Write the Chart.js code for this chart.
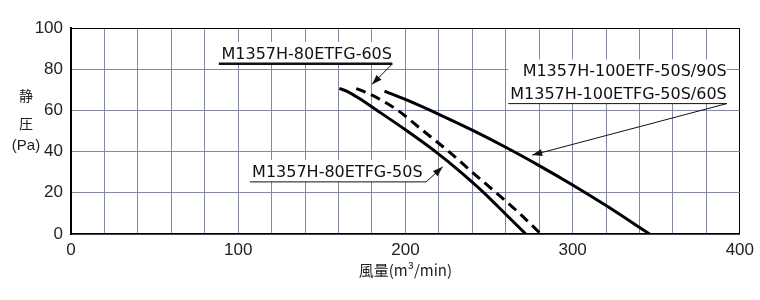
<!DOCTYPE html>
<html>
<head>
<meta charset="utf-8">
<script src="https://cdn.jsdelivr.net/npm/chart.js@4/dist/chart.umd.min.js"></script>
<style>
  body { margin: 0; background: #fff; }
</style>
</head>
<body>
<canvas id="pqChart" width="760" height="300"></canvas>
<script>
// 風量 (m3/min) vs 静圧 (Pa)
const flow80_50 = [160.5, 166, 172, 182.5, 200, 218, 232, 247, 260, 272];
const press80_50 = [70.7, 68.9, 66, 60.3, 50.6, 40, 30.8, 20, 9.6, 0];

const flow80_60 = [170.6, 177, 184.5, 195.5, 210, 226, 240, 254, 268, 281];
const press80_60 = [70.6, 68.5, 65.5, 60, 50.5, 40, 30, 20.2, 10.2, 0];

const flow100 = [187.5, 200, 220, 240, 260, 280, 300, 320, 346];
const press100 = [69.4, 65.3, 58.1, 50.4, 42.1, 33.2, 23.8, 13.8, 0];

const xLabels = [0, 100, 200, 300, 400];
const yLabels = [0, 20, 40, 60, 80, 100];

const seriesNames = ['M1357H-80ETFG-50S', 'M1357H-80ETFG-60S', 'M1357H-100ETFG-50S/60S'];

// callouts, anchored in data units
const notes = [
  { lines: ['M1357H-80ETFG-60S'], align: 'left', textX: 90, base: [85], under: [88.4, 192.2, 82.6], tip: [180, 72.6], lw: 2.5 },
  { lines: ['M1357H-80ETFG-50S'], align: 'left', textX: 108.3, base: [27.7], under: [106.9, 212.4, 25.3], tip: [222.3, 32.6], lw: 1 },
  { lines: ['M1357H-100ETF-50S/90S', 'M1357H-100ETFG-50S/60S'], align: 'right', textX: 392.2, base: [76.5, 65.4], under: [261.5, 392.2, 63.3], tip: [275.8, 38.3], lw: 1 }
];

const toPts = (xs, ys) => xs.map((v, i) => ({ x: v, y: ys[i] }));

const gridColor = '#8088a0';
const noteFont = '16px "DejaVu Sans", Verdana, sans-serif';

function arrow(ctx, x0, y0, x1, y1) {
  ctx.beginPath();
  ctx.moveTo(x0, y0);
  ctx.lineTo(x1, y1);
  ctx.stroke();
  const a = Math.atan2(y1 - y0, x1 - x0);
  const len = 10, w = 3.5;
  ctx.beginPath();
  ctx.moveTo(x1, y1);
  ctx.lineTo(x1 - len * Math.cos(a) + w * Math.sin(a), y1 - len * Math.sin(a) - w * Math.cos(a));
  ctx.lineTo(x1 - len * Math.cos(a) - w * Math.sin(a), y1 - len * Math.sin(a) + w * Math.cos(a));
  ctx.closePath();
  ctx.fill();
}

const notePlugin = {
  id: 'notes',
  beforeDatasetsDraw(chart) {
    const { ctx, scales: { x, y } } = chart;
    ctx.save();
    ctx.fillStyle = '#fff';
    notes.forEach(n => {
      const u0 = x.getPixelForValue(n.under[0]);
      const u1 = x.getPixelForValue(n.under[1]);
      const top = y.getPixelForValue(n.base[0]) - 17;
      const bottom = y.getPixelForValue(n.under[2]);
      ctx.fillRect(u0, top, u1 - u0, bottom - top);
    });
    ctx.restore();
  },
  afterDatasetsDraw(chart) {
    const { ctx, scales: { x, y } } = chart;
    ctx.save();
    ctx.font = noteFont;
    ctx.fillStyle = '#111';
    ctx.strokeStyle = '#111';
    ctx.textBaseline = 'alphabetic';
    notes.forEach(n => {
      ctx.textAlign = n.align;
      n.lines.forEach((t, i) => {
        ctx.fillText(t, x.getPixelForValue(n.textX), y.getPixelForValue(n.base[i]));
      });
      const u0 = x.getPixelForValue(n.under[0]);
      const u1 = x.getPixelForValue(n.under[1]);
      const uy = y.getPixelForValue(n.under[2]);
      ctx.lineWidth = n.lw;
      ctx.beginPath();
      ctx.moveTo(u0, uy);
      ctx.lineTo(u1, uy);
      ctx.stroke();
      ctx.lineWidth = 1;
      arrow(ctx, u1, uy, x.getPixelForValue(n.tip[0]), y.getPixelForValue(n.tip[1]));
    });
    ctx.restore();
  },
  afterDraw(chart) {
    const { ctx } = chart;
    ctx.save();
    ctx.fillStyle = '#222';
    ctx.textAlign = 'center';
    ctx.textBaseline = 'middle';
    ctx.font = '14px "Noto Sans CJK JP"';
    ctx.fillText('静', 26, 96);
    ctx.fillText('圧', 26, 124);
    ctx.font = '15px "Liberation Sans", Arial, sans-serif';
    ctx.fillText('(Pa)', 26, 146);
    ctx.restore();
  }
};

const line = (name, xs, ys, dash) => ({
  label: name,
  data: toPts(xs, ys),
  borderColor: '#000',
  borderWidth: 3,
  borderDash: dash,
  pointRadius: 0,
  fill: false,
  cubicInterpolationMode: 'monotone'
});

const ctx = document.getElementById('pqChart').getContext('2d');
const pqChart = new Chart(ctx, {
  type: 'line',
  data: {
    datasets: [
      line(seriesNames[0], flow80_50, press80_50, []),
      line(seriesNames[1], flow80_60, press80_60, [10, 6]),
      line(seriesNames[2], flow100, press100, [])
    ]
  },
  options: {
    responsive: false,
    animation: false,
    layout: { padding: { top: 28, right: 19, bottom: 0, left: 0 } },
    plugins: {
      legend: { display: false },
      tooltip: { enabled: false }
    },
    scales: {
      x: {
        type: 'linear',
        min: xLabels[0],
        max: xLabels[xLabels.length - 1],
        afterFit: s => { s.height = 66; },
        ticks: {
          stepSize: 20,
          autoSkip: false,
          maxRotation: 0,
          padding: 6,
          color: '#222',
          font: { family: '"Liberation Sans", Arial, sans-serif', size: 17 },
          callback: v => xLabels.includes(v) ? v : ''
        },
        grid: {
          drawTicks: false,
          color: c => c.tick && c.tick.value === xLabels[xLabels.length - 1] ? '#000' : gridColor
        },
        border: { color: '#000', width: 1.5 },
        title: {
          display: true,
          text: '風量(m³/min)',
          color: '#222',
          font: { family: '"Noto Sans CJK JP", "Liberation Sans", sans-serif', size: 15 },
          padding: { top: 0, bottom: 21 }
        }
      },
      y: {
        min: yLabels[0],
        max: yLabels[yLabels.length - 1],
        afterFit: s => { s.width = 71; },
        ticks: {
          stepSize: 20,
          padding: 8,
          color: '#222',
          font: { family: '"Liberation Sans", Arial, sans-serif', size: 17 },
          callback: v => yLabels.includes(v) ? v : ''
        },
        grid: {
          drawTicks: false,
          color: c => c.tick && c.tick.value === yLabels[yLabels.length - 1] ? '#000' : gridColor
        },
        border: { color: '#000', width: 2 }
      }
    }
  },
  plugins: [notePlugin]
});
</script>
</body>
</html>
